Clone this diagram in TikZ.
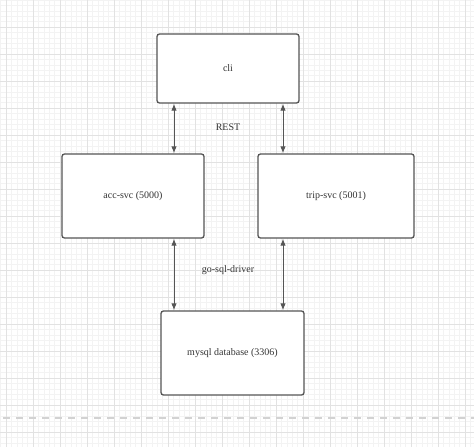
\documentclass[tikz,border=0pt]{standalone}
\usepackage{fontspec}
\setmainfont{Liberation Serif}
\usetikzlibrary{positioning,arrows.meta}

\definecolor{gridminor}{HTML}{F3F3F3}
\definecolor{gridmajor}{HTML}{E2E2E2}
\definecolor{boxline}{HTML}{555555}
\definecolor{txt}{HTML}{333333}

\tikzset{
  svcbox/.style={draw=boxline, line width=1.3pt, rounded corners=2.5pt, fill=white,
    text=txt, font=\fontsize{10}{12}\selectfont, inner sep=0pt},
  link/.style={{Latex[length=7pt,width=5.5pt]}-{Latex[length=7pt,width=5.5pt]}, draw=boxline, line width=1pt},
  lbl/.style={text=txt, font=\fontsize{10}{12}\selectfont}
}

\begin{document}
\begin{tikzpicture}[x=1pt,y=-1pt]

		% Canvas
		\useasboundingbox (0,0) rectangle (474,447);
		\fill[white] (0,0) rectangle (474,447);

		% Grid paper
		\foreach \i in {0,...,87}
			\draw[gridminor, line width=0.5pt] ({0.6+5.4*\i},0) -- ({0.6+5.4*\i},447);
		\foreach \i in {0,...,82}
			\draw[gridminor, line width=0.5pt] (0,{5.4*\i}) -- (474,{5.4*\i});
		\foreach \i in {0,...,17}
			\draw[gridmajor, line width=0.6pt] ({6+27*\i},0) -- ({6+27*\i},447);
		\foreach \i in {1,...,16}
			\draw[gridmajor, line width=0.6pt] (0,{27*\i}) -- (474,{27*\i});

		% Page break
		\draw[gray!35, line width=1.3pt, dash pattern=on 7pt off 6pt] (3,418) -- (474,418);

		% Services
		\node[svcbox, minimum width=142pt, minimum height=69pt] (cli) at (228,68.5) {cli};
		\node[svcbox, minimum width=142pt, minimum height=84pt] (acc) at (133,196) {acc-svc (5000)};
		\node[svcbox, minimum width=156pt, minimum height=84pt] (trip) at (336,196) {trip-svc (5001)};
		\node[svcbox, minimum width=143pt, minimum height=84pt] (db) at (232.5,353) {mysql database (3306)};

		% Links
		\coordinate (lx) at (174,0);
		\coordinate (rx) at (283,0);
		\draw[link] (cli.south -| lx) -- (acc.north -| lx);
		\draw[link] (cli.south -| rx) -- (trip.north -| rx);
		\draw[link] (acc.south -| lx) -- (db.north -| lx);
		\draw[link] (trip.south -| rx) -- (db.north -| rx);

		% Labels
		\node[lbl] (rest) at (228,127) {REST};
		\node[lbl] (driver) at (228,270) {go-sql-driver};

	\end{tikzpicture}
\end{document}
